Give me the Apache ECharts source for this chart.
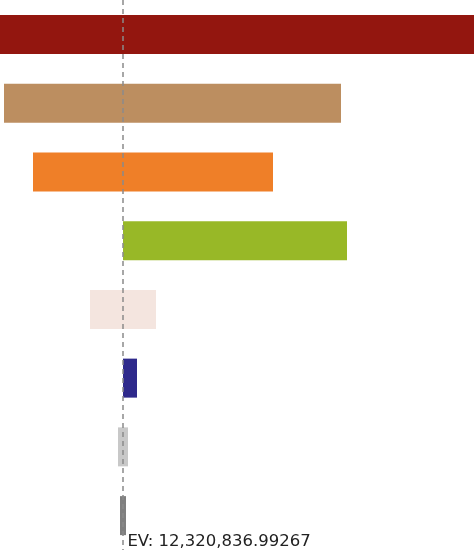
<!DOCTYPE html>
<html>
	<head>
		<meta charset="utf-8">
		<title>Tornado</title>
		<style>
			html,body{margin:0;padding:0;background:#fff;}
			#chart{width:474px;height:552px;}
		</style>
	</head>
	<body>
		<div id="chart"></div>
		<script src="https://cdn.jsdelivr.net/npm/echarts@6/dist/echarts.min.js"></script>
		<script type="text/javascript">
			// expected value, in millions
			var ev = 12.32083699267;
			var evLabel = 'EV: 12,320,836.99267';
			// one row per input, top to bottom (values in millions)
			var categories = ['A','B','C','D','E','F','G','H'];
			var lowValues  = [6.0, 6.40, 7.85, 12.35, 10.70, 12.35, 12.10, 12.20];
			var highValues = [31.0, 23.25, 19.85, 23.55, 14.00, 13.05, 12.60, 12.50];
			var barColors  = ['#93160f','#bc8e60','#ef7f28','#98b827','#f4e5df','#2e298b','#c8c8c8','#7f7f7f'];

			var myChart = echarts.init(document.getElementById('chart'));
			var spans = highValues.map(function(v,i){
				return {value: v - lowValues[i], itemStyle: {color: barColors[i]}};
			});
			var option = {
				animation: false,
				grid: {left: 0, right: 0, top: -1, height: 551},
				xAxis: {
					type: 'value',
					min: 6.2,
					max: 29.9,
					show: false
				},
				yAxis: {
					type: 'category',
					inverse: true,
					data: categories,
					show: false
				},
				series: [{
					name: 'base',
					type: 'bar',
					stack: 'range',
					barWidth: 39,
					itemStyle: {color: 'transparent'},
					data: lowValues,
					silent: true
				},{
					name: 'range',
					type: 'bar',
					stack: 'range',
					barWidth: 39,
					data: spans,
					markLine: {
						symbol: 'none',
						silent: true,
						label: {show: false},
						lineStyle: {color: '#8a8a8a', type: [5,4], width: 1.5},
						data: [{xAxis: ev}]
					}
				}]
			};
			myChart.setOption(option);
			// EV 标签放在虚线右侧底部
			var evX = myChart.convertToPixel({xAxisIndex: 0}, ev);
			myChart.setOption({
				graphic: [{
					type: 'text',
					left: evX + 5,
					top: 533,
					style: {
						text: evLabel,
						fill: '#222',
						font: '16.5px "DejaVu Sans", sans-serif'
					}
				}]
			});
		</script>
	</body>
</html>
